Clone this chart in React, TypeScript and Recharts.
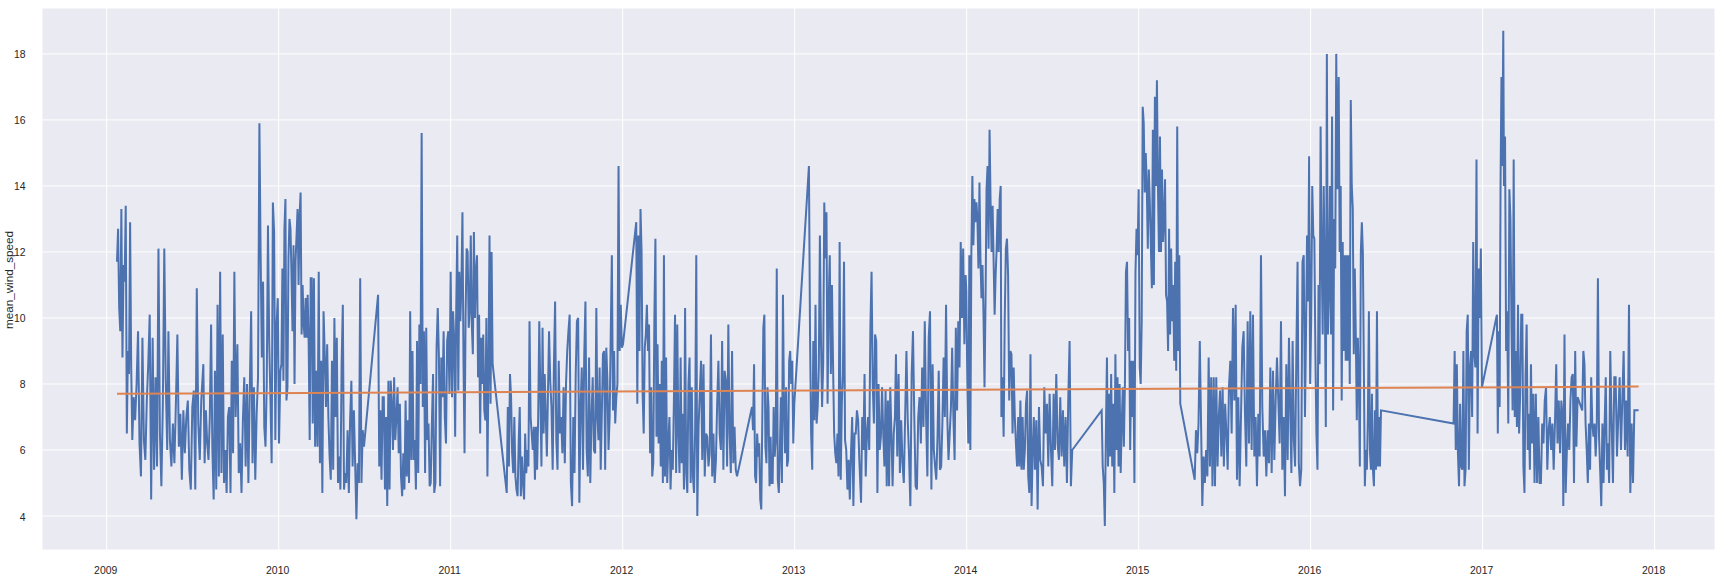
import { LineChart, Line, XAxis, YAxis, CartesianGrid } from 'recharts'

// daily mean wind speed
const w2009a = [11.7,12.7,10.3,9.6,13.3,8.8,11.6,11.1,13.4,6.5,9.0,8.3,12.9,8.5,6.3]
const w2009b = [7.6,6.9,8.0,9.6,6.2,5.2,9.4,6.3,5.7,7.5,8.6,10.1,4.5,9.4,5.4,8.2,5.5,12.1,6.5,4.9,7.4,12.1,8.1,6.0]
const w2009c = [9.6,6.3,5.5,6.8,5.6,7.4,9.5,6.1,7.1,5.1,7.2,5.9,7.0,7.5,5.4,4.8,7.3,7.8,4.8,10.9,6.8,5.7,7.5]
const w2009d = [8.6,5.6,7.2,6.2,5.7,7.0,9.8,6.0,4.5,8.4,4.8,10.4,5.2,11.4,5.3,9.5,5.0,6.0,4.7,7.0,7.3,4.7,8.7,5.9,11.4,7.0]
const w2009e = [9.2,5.3,6.2,4.7,6.9,8.2,5.5,8.0,5.0,7.8,10.2,5.6,7.9,5.1,7.1,8.2,15.9]
const w2009f = [12.0,8.8,11.1,6.7,6.1,8.0,12.8,9.3,7.6,5.6,13.5,12.6,6.3,9.8,10.6,6.2]
const w2010a = [8.4,8.6,11.5,8.1,12.7,13.6,7.5,7.9,11.8,13.0,12.7,11.3,9.6,12.2,8.0,11.7,12.5,13.3,11.0,13.1,13.8,9.5,11.0,9.8,9.4,10.6,9.4,10.7,9.2,6.3,11.2,11.2,6.8]
const w2010b = [11.2,6.1,8.4,6.1,11.4,5.6,8.7,4.7,10.2,8.9,7.3,9.2,7.0,5.8,5.1,8.7,5.4,10.0,7.0,9.4,5.0,5.8,4.8,8.6,10.4,4.8]
const w2010c = [5.3,5.0,6.6,4.7,6.9,8.1,5.5,7.2,5.6,3.9,5.6,5.0,11.2,5.0,6.6,6.1]
const w2010d = [10.7,5.5,7.2,5.1,7.6,7.6,4.8,7.0,4.3,8.1,4.8,8.1,7.4,6.0,8.2,6.3,7.0,7.9,5.9,7.4,5.2,4.6,5.9,4.8,7.5,5.2,6.9,5.0,10.2,5.7,9.0,5.7,6.3,4.8,9.3,5.3,9.8,8.0,15.6,7.3,9.6,5.3,9.7,6.3,6.8,4.9]
const w2010e = [5.0,6.8,8.3,4.7,5.0,9.1,10.3,8.8,4.9,8.8,7.6,9.6,7.0,6.2,9.3,9.6,7.7,11.4]
const w2011a = [7.6,10.2,9.4,6.4,10.2,12.5,7.8,11.4,9.9,11.0,13.2,8.7,5.9,10.0,12.1,12.0,9.7,10.2,12.5,9.8,8.9,12.6,10.0,11.4,11.9,8.2,10.1,6.5,9.4,8.0,9.5,7.2,6.9,10.0,5.2,8.4,12.5,7.4,12.0,8.6]
const w2011b = [4.7,7.3,5.5,8.3,7.6,5.9,5.3,7.0,5.2,4.8,4.6,6.2,7.3,4.6,5.8,5.0,4.5,6.5,5.3,6.0,5.5,9.9,7.0,6.5,6.0,6.7,5.1,6.7,5.4,7.0,9.9,7.7,5.5,9.7,6.5,8.3,7.0,5.8,7.7,9.6]
const w2011c = [8.1,7.3,5.4,8.5,10.5,6.3,5.4,8.7,6.5,7.0,5.9,7.9,5.6,8.0,9.0,9.6,10.1,5.0,4.3,7.0,5.3,8.3,9.9,10.0,4.4,7.3,8.5,5.4,8.8,10.5,6.0,5.2,8.8,5.0,7.0,8.2,6.0,5.9,10.3]
const w2011d = [7.0,6.3,8.5,5.4,7.1,8.9,9.0,5.4,9.1,8.1,6.0,7.0,9.5,11.9,7.2,9.0,6.8,7.6,8.0,14.6,9.0,10.4,9.1,9.2]
const w2012a = [12.9,7.4,12.5,9.0,13.3,12.0,7.7,6.5,9.1,9.5,10.4,9.0,9.8,5.9,7.9,5.2,5.6,9.9,12.4,6.4,9.2,6.2,8.0,5.5,8.7,5.0,11.9]
const w2012b = [5.2,8.8,5.0,6.2,7.0,4.8,6.0,5.4,7.5,10.1,5.3,9.8,6.5,5.3,8.8,5.6,7.1,4.8,10.3,5.3,4.7,8.0,8.8,5.0,7.9,5.2,4.7,6.6,11.9]
const w2012c = [4.0,6.7,7.7,8.7,5.7,8.6,5.2,6.5,6.4,5.5,5.9,9.5,5.2,6.5,5.0,5.7,7.4,8.7,6.5,6.0,9.3,5.4,8.4,8.1,5.5,9.8,6.5,5.3,9.0,5.6,6.7,5.4,5.2]
const w2012d = [7.3,6.6,8.6,5.2,5.0,6.5,5.8,6.2,4.5,4.2,7.0,9.7,10.1,6.1,5.6,7.9,7.3,4.9,6.4,5.0,5.0,7.3,5.8,6.3,11.5,5.1,4.7,6.0,7.6,5.0,10.7,7.3,5.9,7.9,5.5,5.7,8.7,9.0,8.0,8.7,6.2,7.4]
const w2013a = [14.6,9.5,6.5,5.4,9.3,6.9,10.4,6.8,7.3,8.5,12.5,9.3,7.3,8.6,13.5,11.8,13.2,7.4,10.5,11.9,8.3,11.0,8.6,6.5,5.9,5.6,6.5,5.2,12.3,5.1,7.4,8.3,11.7]
const w2013b = [6.3,6.0,4.8,5.7,4.5,5.9,7.0,4.3,6.5,6.5,7.2,6.9,5.7]
const w2013c = [4.4,7.0,6.0,8.3,5.2,6.5,7.0,6.0,9.7,11.4,8.0,6.8,9.5,9.3,4.7,8.0,6.0,6.4,7.9,6.5,5.5,7.8,4.9,7.5,4.9,7.9,6.5,4.9,6.5,7.0]
const w2013d = [8.9,5.8,8.3,5.3,6.9,5.6,5.0,7.0,9.0,6.9,5.8,4.3,8.3,9.6,7.0,4.9,4.8,7.0,7.6,6.2,8.5,6.7,9.9,7.0,5.2,9.4,10.2]
const w2013e = [4.8,8.6,6.0,5.5,5.1,6.4,8.4,5.4,5.5,6.8,8.8,7.0,10.4,7.0,5.7,6.5,7.3,9.1,7.0,5.7,9.7,7.2,9.9,8.5,12.3,10.0,12.1,9.2,11.3]
const w2014a = [10.8,8.1,6.2,11.9,6.0,12.0,14.3,12.2,13.6,12.9,13.5,13.0,11.5,14.1,11.8,10.6,11.6,10.1,7.9,10.5,13.9,14.6,12.1,15.7,13.5,12.0,13.4,11.7,10.1,11.3,12.1,13.3,12.0,13.6,14.0]
const w2014b = [7.0,8.2,6.4,10.0,12.1,12.4,11.3,7.5,9.0,8.9,6.5,8.5,7.0,6.2,5.5,7.0,5.5,7.5,5.4,7.0,5.4,6.0,7.4,7.8,5.2,4.7,8.9,4.3,6.0,7.0,5.4]
const w2014c = [6.9,4.2,7.3,5.7,5.5,4.9,7.9,6.5,7.4,5.5,7.7,6.0,4.9,7.7,6.0,8.3,6.2,5.7,7.6,5.8,7.2,5.5,7.0,5.0,7.5,9.3,4.9,6.0]
const w2014d = [7.2,5.5,5.0,3.7,6.5,8.8,5.5,7.7,5.8,8.3,5.5,7.4,4.7,8.9,6.0,8.2,5.5,8.0,5.3,6.8,7.9,6.1,8.0,11.4,11.7,9.0,10.0,6.0,8.7,7.0,8.7,5.0,11.4,12.7,11.9,13.9]
const w2015a = [8.5,8.0,9.9,16.4,15.9,13.8,15.0,14.0,12.1,14.5,13.5,12.2,10.9,15.7,11.0,16.7,14.0,17.2,14.0,12.0,15.5,12.0,14.5,12.3,13.0,14.2,10.7,10.5,9.0,12.7,9.5,12.1,9.9,11.0,8.7,11.7,8.4,15.8,9.0,11.9,7.4]
const w2015b = [5.1,6.6,5.9,6.8,9.3,6.8,4.3,5.8,5.0,6.0,5.2,8.8,5.5,8.2,4.9,8.2,4.9,8.2,5.5,7.0,7.8,5.8,7.9,5.5,7.4,6.5,5.4,7.9]
const w2015c = [8.7,6.5,10.3,7.5,10.4,5.1,7.6,4.9,7.0,9.1,9.6,7.1,5.5,9.9,6.2,10.2,6.0,10.1,5.8,7.0,4.9,7.1,5.8,11.9,7.3]
const w2015d = [5.8,6.6,5.2,6.6,5.6,8.5,5.3,8.4,5.7,7.5,8.8,7.5,6.2,9.9,5.4,7.0,4.6,8.6,5.7,9.4]
const w2015e = [5.3,9.3,6.3,5.5,8.8,11.7,5.6,4.9,5.4,11.7,11.9,7.0]
const w2016a = [9.5,12.5,10.5,14.9,8.0,10.0,14.0,12.5,12.4,8.9,6.5,5.4,11.0,8.6,15.8,11.9,9.5,14.0,11.0,6.7,18.0,9.5,10.7,14.0,9.5,16.1,7.2,13.0,11.5,18.0,13.9]
const w2016b = [17.3,12.0,14.0,7.5,12.3,9.0,11.9,8.7,11.9,8.7,11.9,8.0,16.6,14.0,13.3,8.9,11.5,9.5,6.9,9.4,8.2,5.5,12.0,12.9,12.0,8.5,4.9,6.0,5.4,7.0,10.2,6.0,5.4,7.7,5.4,4.9,7.2,5.4,10.2,5.5,7.0,5.5,7.2]
const w2016c = [6.8,9.0,6.0,8.6,5.9,4.9,7.4,5.5,5.4,9.0,4.9,5.4,9.6,10.1,5.4,8.5,9.0,7.0,12.3,8.9,8.5,14.8,6.5,11.5,10.0,12.1,7.9]
const w2017a = [10.1,6.5,9.6,7.3,14.0,17.3,14.6,18.7]
const w2017b = [14.0,15.5,9.0,10.2,6.8,13.9,13.0,9.7,7.2,14.8,7.0,9.0,6.7,10.4,6.5,7.7,10.1,10.1,5.5,4.7,8.3,9.8,6.0,7.1,5.4,8.6]
const w2017c = [6.2,7.7,5.0,7.7,5.0,7.0,5.0,5.0,6.8,6.2,7.5,7.9,5.4,6.6,7.0,6.0,6.8,5.4,6.8,8.6,6.2,7.5,5.9,7.5,7.0]
const w2017d = [4.3,9.5,4.7,6.0,6.8,6.0,7.5,8.2,8.3,5.0,9.0,6.1,7.6]
const w2017e = [7.2,9.0,8.6,6.8,6.0,5.0,6.8,5.4,8.2,6.8,6.4,6.8,5.8,6.8,11.2,6.4,5.4,4.3,6.8,5.0,6.8,8.2,5.4,6.2,5.0,9.0]
const w2017f = [6.8,5.0,8.2,8.2,5.8,7.0,8.2,6.0,7.5,9.0,6.0,7.5,5.8,10.4,4.7,6.8,5.0,7.2]
const w2017g = [7.2,7.2]

// first and last date (decimal year) of each stretch
const stretches: [number, number, number[]][] = [
  [2009.06, 2009.149, w2009a],
  [2009.157, 2009.352, w2009b],
  [2009.359, 2009.55, w2009c],
  [2009.562, 2009.75, w2009d],
  [2009.76, 2009.888, w2009e],
  [2009.895, 2010.002, w2009f],
  [2010.01, 2010.198, w2010a],
  [2010.205, 2010.38, w2010b],
  [2010.386, 2010.496, w2010c],
  [2010.578, 2010.878, w2010d],
  [2010.884, 2011.0, w2010e],
  [2011.008, 2011.244, w2011a],
  [2011.326, 2011.572, w2011b],
  [2011.579, 2011.847, w2011c],
  [2011.853, 2012.002, w2011d],
  [2012.079, 2012.24, w2012a],
  [2012.246, 2012.428, w2012b],
  [2012.434, 2012.665, w2012c],
  [2012.752, 2012.998, w2012d],
  [2013.083, 2013.287, w2013a],
  [2013.293, 2013.376, w2013b],
  [2013.386, 2013.583, w2013c],
  [2013.589, 2013.787, w2013d],
  [2013.795, 2013.994, w2013e],
  [2013.998, 2014.198, w2014a],
  [2014.202, 2014.397, w2014b],
  [2014.405, 2014.614, w2014c],
  [2014.785, 2015.0, w2014d],
  [2015.006, 2015.242, w2015a],
  [2015.326, 2015.525, w2015b],
  [2015.533, 2015.719, w2015c],
  [2015.727, 2015.874, w2015d],
  [2015.888, 2015.967, w2015e],
  [2015.973, 2016.155, w2016a],
  [2016.163, 2016.409, w2016b],
  [2016.831, 2016.996, w2016c],
  [2017.083, 2017.12, w2017a],
  [2017.124, 2017.281, w2017b],
  [2017.287, 2017.465, w2017c],
  [2017.469, 2017.552, w2017d],
  [2017.579, 2017.742, w2017e],
  [2017.75, 2017.882, w2017f],
  [2017.89, 2017.907, w2017g],
]

const trendDates = [2009.06, 2017.907]
const trendValues = [7.7, 7.92]

const yearTicks = [2009, 2010, 2011, 2012, 2013, 2014, 2015, 2016, 2017, 2018]
const speedTicks = [4, 6, 8, 10, 12, 14, 16, 18]

const wind = stretches.flatMap(([from, to, values]) =>
  values.map((speed, i) => ({
    year: from + ((to - from) * i) / Math.max(values.length - 1, 1),
    speed,
  }))
)
const trend = trendDates.map((year, i) => ({ year, speed: trendValues[i] }))

const textStyle = { fontFamily: '"Liberation Sans", Arial, sans-serif', fontSize: 11.7, fill: '#262626' }

// the reference is squeezed a bit in x, so its glyphs are narrow
const XTick = ({ x, y, payload }: any) => (
  <text {...textStyle} textAnchor="middle" transform={`translate(${x - 1},${y}) scale(0.89,1)`}>
    {payload.value}
  </text>
)
const YTick = ({ x, y, payload }: any) => (
  <text {...textStyle} textAnchor="end" transform={`translate(${x},${y + 4.5}) scale(0.89,1)`}>
    {payload.value}
  </text>
)
const YLabel = () => (
  <text {...textStyle} textAnchor="middle" transform="translate(13,280) scale(0.89,1) rotate(-90)">
    mean_wind_speed
  </text>
)

export default function App() {
  return (
    <div style={{ position: 'absolute', left: 0, top: 0, width: 1721, height: 576, background: '#fff' }}>
      <LineChart width={1721} height={576} margin={{ top: 8, right: 6, bottom: 0, left: 0 }}>
        <CartesianGrid fill="#eaeaf2" stroke="#fff" strokeWidth={1} />
        <XAxis
          dataKey="year"
          type="number"
          domain={[2008.624, 2018.351]}
          ticks={yearTicks}
          allowDataOverflow
          axisLine={false}
          tickLine={false}
          tickMargin={18}
          height={26}
          tick={<XTick />}
        />
        <YAxis
          type="number"
          domain={[2.97, 19.39]}
          ticks={speedTicks}
          allowDataOverflow
          axisLine={false}
          tickLine={false}
          tickMargin={10.5}
          width={42}
          tick={<YTick />}
          label={<YLabel />}
        />
        <Line data={wind} dataKey="speed" stroke="#4c72b0" strokeWidth={2} dot={false} isAnimationActive={false} />
        <Line data={trend} dataKey="speed" stroke="#dd8452" strokeWidth={2} dot={false} isAnimationActive={false} />
      </LineChart>
    </div>
  )
}
